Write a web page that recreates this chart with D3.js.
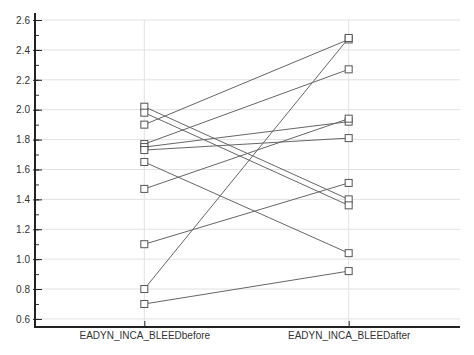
<!DOCTYPE html>
<html>
<head>
<meta charset="utf-8">
<script src="https://cdn.jsdelivr.net/npm/d3@7/dist/d3.min.js"></script>
<style>
  html, body { margin: 0; padding: 0; background: #fff; }
  svg { display: block; font-family: "Liberation Sans", Arial, sans-serif; }
</style>
</head>
<body>
<svg id="chart" width="474" height="355"></svg>
<script>
const categories = ["EADYN_INCA_BLEEDbefore", "EADYN_INCA_BLEEDafter"];
const beforeValues = [2.02, 1.98, 1.90, 1.77, 1.75, 1.73, 1.65, 1.47, 1.10, 0.80, 0.70];
const afterValues  = [1.40, 1.36, 2.47, 2.27, 1.92, 1.81, 1.04, 1.94, 1.51, 2.48, 0.92];
const yTickValues = [0.6, 0.8, 1.0, 1.2, 1.4, 1.6, 1.8, 2.0, 2.2, 2.4, 2.6];
const yMinorTickValues = d3.range(6, 27).map(d => d / 10);

const svg = d3.select("#chart");
const mLeft = 35, mRight = 460, mTop = 13, mBottom = 327;

const x = d3.scalePoint().domain(categories).range([mLeft, 458]).padding(0.535);
const y = d3.scaleLinear().domain([0.546, 2.647]).range([mBottom, mTop]);

// grid
const grid = svg.append("g");
grid.selectAll("line.h").data(yTickValues).join("line")
  .attr("class", "h")
  .attr("x1", mLeft).attr("x2", mRight)
  .attr("y1", d => y(d)).attr("y2", d => y(d))
  .attr("stroke", "#e2e2e2").attr("stroke-width", 1);
grid.selectAll("line.v").data(categories).join("line")
  .attr("class", "v")
  .attr("x1", d => x(d)).attr("x2", d => x(d))
  .attr("y1", y(2.6)).attr("y2", mBottom)
  .attr("stroke", "#e2e2e2").attr("stroke-width", 1);

// connecting lines
const pairs = beforeValues.map((b, i) => [b, afterValues[i]]);
svg.append("g").selectAll("line").data(pairs).join("line")
  .attr("x1", x(categories[0])).attr("x2", x(categories[1]))
  .attr("y1", d => y(d[0])).attr("y2", d => y(d[1]))
  .attr("stroke", "#666").attr("stroke-width", 1);

// markers
const sz = 7;
const pts = [];
beforeValues.forEach(v => pts.push([categories[0], v]));
afterValues.forEach(v => pts.push([categories[1], v]));
svg.append("g").selectAll("rect").data(pts).join("rect")
  .attr("x", d => x(d[0]) - sz / 2).attr("y", d => y(d[1]) - sz / 2)
  .attr("width", sz).attr("height", sz)
  .attr("fill", "#fff").attr("stroke", "#555").attr("stroke-width", 1);

// y minor ticks
const yMinor = svg.append("g").attr("transform", `translate(${mLeft},0)`)
  .call(d3.axisLeft(y).tickValues(yMinorTickValues).tickSizeInner(-4).tickSizeOuter(0).tickFormat(""));
yMinor.select(".domain").remove();
yMinor.selectAll(".tick line").attr("stroke", "#333");

// y major axis
const yAxis = svg.append("g").attr("transform", `translate(${mLeft},0)`)
  .call(d3.axisLeft(y).tickValues(yTickValues).tickSizeInner(-7).tickSizeOuter(0).tickPadding(5)
    .tickFormat(d3.format(".1f")));
yAxis.select(".domain").remove();
yAxis.selectAll(".tick line").attr("stroke", "#222").attr("x1", -2);
yAxis.selectAll(".tick text").attr("fill", "#333").style("font-size", "10px")
  .style("font-family", "'Liberation Sans', Arial, sans-serif");

// x axis
const xAxis = svg.append("g").attr("transform", `translate(0,${mBottom})`)
  .call(d3.axisBottom(x).tickSizeInner(-6).tickSizeOuter(0).tickPadding(5));
xAxis.select(".domain").remove();
xAxis.selectAll(".tick line").attr("stroke", "#222");
xAxis.selectAll(".tick text").attr("fill", "#333").style("font-size", "10px")
  .style("font-family", "'Liberation Sans', Arial, sans-serif");

// axis lines
svg.append("line").attr("x1", mLeft).attr("x2", mLeft).attr("y1", mTop).attr("y2", mBottom + 1)
  .attr("stroke", "#222").attr("stroke-width", 2);
svg.append("line").attr("x1", mLeft - 1).attr("x2", mRight).attr("y1", mBottom).attr("y2", mBottom)
  .attr("stroke", "#222").attr("stroke-width", 2);
</script>
</body>
</html>
